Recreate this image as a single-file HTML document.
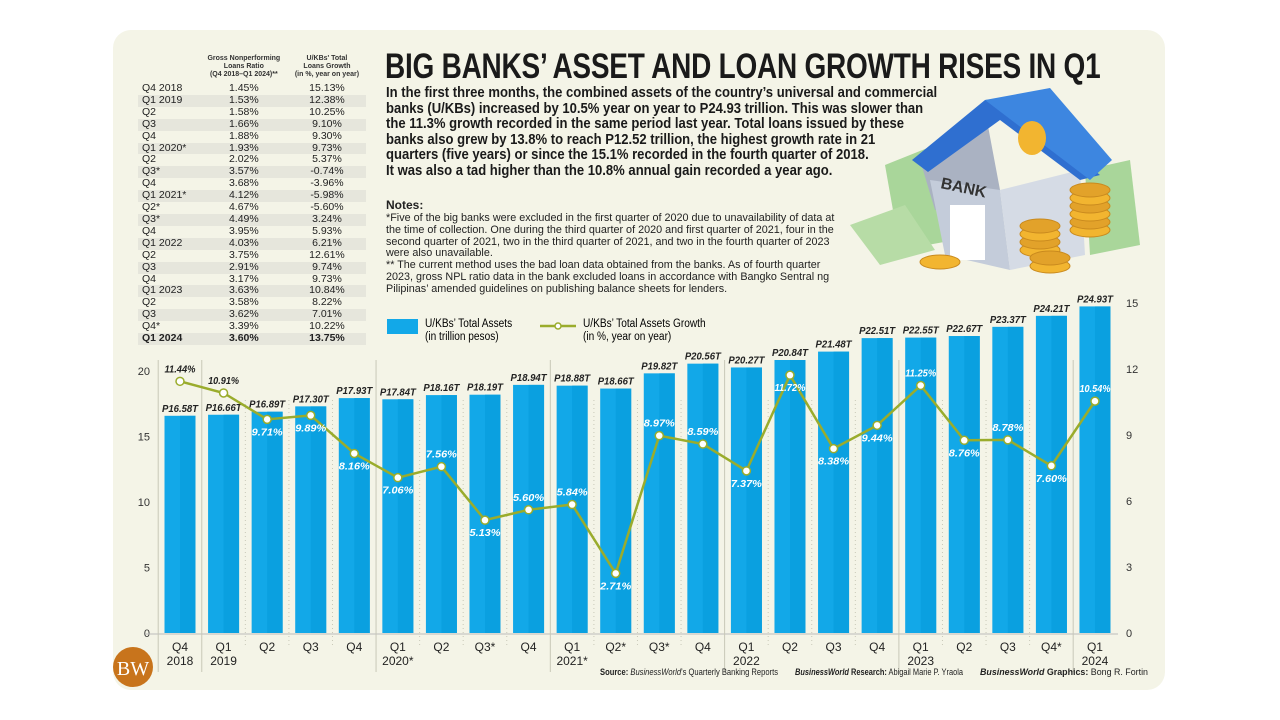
<!DOCTYPE html>
<html><head><meta charset="utf-8"><style>
body{margin:0;width:1280px;height:720px;background:#fff;position:relative;overflow:hidden;font-family:"Liberation Sans",sans-serif;}
#panel{position:absolute;left:113px;top:30px;width:1052px;height:660px;background:#f4f4e7;border-radius:18px;}
.sx{transform-origin:0 0;white-space:nowrap;}
#title{position:absolute;left:385px;top:47px;font-size:35px;font-weight:bold;color:#1a1a1a;transform:scaleX(0.80);letter-spacing:-0.3px;}
#intro{position:absolute;left:386px;top:86px;font-size:14.6px;line-height:15.6px;color:#1a1a1a;font-weight:bold;transform:scaleX(0.895);}
#notes{position:absolute;left:386px;top:197px;font-size:10.8px;line-height:11.8px;color:#222;transform:scaleX(1.0);}
#notes b{font-size:12px;line-height:16px;}
table{position:absolute;left:138px;top:54px;width:228px;border-collapse:collapse;font-size:10.5px;color:#222;}
td{padding:0 4px;height:11.9px;line-height:11.9px;}
td.c{text-align:center;}
tr.g td{background:#e6e6dc;}
th{font-size:7px;font-weight:bold;line-height:8px;padding-bottom:4px;color:#333;}
#legend1{position:absolute;left:425px;top:318px;font-size:11.5px;line-height:12.5px;transform:scaleX(0.88);}
#legend2{position:absolute;left:583px;top:318px;font-size:11.5px;line-height:12.5px;transform:scaleX(0.88);}
</style></head><body>
<div id="panel"></div>
<table>
<tr><th></th><th>Gross Nonperforming<br>Loans Ratio<br>(Q4 2018–Q1 2024)**</th><th>U/KBs' Total<br>Loans Growth<br>(in %, year on year)</th></tr>
<tr><td>Q4 2018</td><td class="c">1.45%</td><td class="c">15.13%</td></tr>
<tr class="g"><td>Q1 2019</td><td class="c">1.53%</td><td class="c">12.38%</td></tr>
<tr><td>Q2</td><td class="c">1.58%</td><td class="c">10.25%</td></tr>
<tr class="g"><td>Q3</td><td class="c">1.66%</td><td class="c">9.10%</td></tr>
<tr><td>Q4</td><td class="c">1.88%</td><td class="c">9.30%</td></tr>
<tr class="g"><td>Q1 2020*</td><td class="c">1.93%</td><td class="c">9.73%</td></tr>
<tr><td>Q2</td><td class="c">2.02%</td><td class="c">5.37%</td></tr>
<tr class="g"><td>Q3*</td><td class="c">3.57%</td><td class="c">-0.74%</td></tr>
<tr><td>Q4</td><td class="c">3.68%</td><td class="c">-3.96%</td></tr>
<tr class="g"><td>Q1 2021*</td><td class="c">4.12%</td><td class="c">-5.98%</td></tr>
<tr><td>Q2*</td><td class="c">4.67%</td><td class="c">-5.60%</td></tr>
<tr class="g"><td>Q3*</td><td class="c">4.49%</td><td class="c">3.24%</td></tr>
<tr><td>Q4</td><td class="c">3.95%</td><td class="c">5.93%</td></tr>
<tr class="g"><td>Q1 2022</td><td class="c">4.03%</td><td class="c">6.21%</td></tr>
<tr><td>Q2</td><td class="c">3.75%</td><td class="c">12.61%</td></tr>
<tr class="g"><td>Q3</td><td class="c">2.91%</td><td class="c">9.74%</td></tr>
<tr><td>Q4</td><td class="c">3.17%</td><td class="c">9.73%</td></tr>
<tr class="g"><td>Q1 2023</td><td class="c">3.63%</td><td class="c">10.84%</td></tr>
<tr><td>Q2</td><td class="c">3.58%</td><td class="c">8.22%</td></tr>
<tr class="g"><td>Q3</td><td class="c">3.62%</td><td class="c">7.01%</td></tr>
<tr><td>Q4*</td><td class="c">3.39%</td><td class="c">10.22%</td></tr>
<tr class="g"><td><b>Q1 2024</b></td><td class="c"><b>3.60%</b></td><td class="c"><b>13.75%</b></td></tr>
</table>
<div id="title" class="sx">BIG BANKS’ ASSET AND LOAN GROWTH RISES IN Q1</div>
<div id="intro" class="sx">In the first three months, the combined assets of the country’s universal and commercial<br>banks (U/KBs) increased by 10.5% year on year to P24.93 trillion. This was slower than<br>the 11.3% growth recorded in the same period last year. Total loans issued by these<br>banks also grew by 13.8% to reach P12.52 trillion, the highest growth rate in 21<br>quarters (five years) or since the 15.1% recorded in the fourth quarter of 2018.<br>It was also a tad higher than the 10.8% annual gain recorded a year ago.</div>
<div id="notes" class="sx"><b>Notes:</b><br>*Five of the big banks were excluded in the first quarter of 2020 due to unavailability of data at<br>the time of collection. One during the third quarter of 2020 and first quarter of 2021, four in the<br>second quarter of 2021, two in the third quarter of 2021, and two in the fourth quarter of 2023<br>were also unavailable.<br>** The current method uses the bad loan data obtained from the banks. As of fourth quarter<br>2023, gross NPL ratio data in the bank excluded loans in accordance with Bangko Sentral ng<br>Pilipinas’ amended guidelines on publishing balance sheets for lenders.</div>
<div id="legend1" class="sx">U/KBs’ Total Assets<br>(in trillion pesos)</div>
<div id="legend2" class="sx">U/KBs’ Total Assets Growth<br>(in %, year on year)</div>
<svg id="chart" width="1280" height="720" style="position:absolute;left:0;top:0"></svg>
<script>
const categories=["Q4|2018","Q1|2019","Q2","Q3","Q4","Q1|2020*","Q2","Q3*","Q4","Q1|2021*","Q2*","Q3*","Q4","Q1|2022","Q2","Q3","Q4","Q1|2023","Q2","Q3","Q4*","Q1|2024"];
const assets=[16.58,16.66,16.89,17.30,17.93,17.84,18.16,18.19,18.94,18.88,18.66,19.82,20.56,20.27,20.84,21.48,22.51,22.55,22.67,23.37,24.21,24.93];
const growth=[11.44,10.91,9.71,9.89,8.16,7.06,7.56,5.13,5.60,5.84,2.71,8.97,8.59,7.37,11.72,8.38,9.44,11.25,8.76,8.78,7.60,10.54];
const growthLabelAbove=[1,1,0,0,0,0,1,0,1,1,0,1,1,0,0,0,0,1,0,1,0,1];
const leftTicks=[0,5,10,15,20];
const rightTicks=[0,3,6,9,12,15];
const NS="http://www.w3.org/2000/svg";
const svg=document.getElementById('chart');
const FF='Liberation Sans,sans-serif';
function mk(t,a,p){const e=document.createElementNS(NS,t);for(const k in a)e.setAttribute(k,a[k]);(p||svg).appendChild(e);return e;}
const y0=633;
const yL=v=>y0-v*13.1;
const yR=v=>y0-v*22.0;
const xC=i=>180+i*43.57;
const bw=31;
const lb=mk('rect',{x:387,y:319,width:31,height:15,fill:'#12a8e8'});


mk('line',{x1:540,y1:326,x2:576,y2:326,stroke:'#9aac2c','stroke-width':2.5});
mk('circle',{cx:558,cy:326,r:3,fill:'#fff',stroke:'#9aac2c','stroke-width':1.5});
leftTicks.forEach(v=>{const t=mk('text',{x:150,y:yL(v)+4,'text-anchor':'end','font-size':11,fill:'#333','font-family':FF});t.textContent=v;
});
rightTicks.forEach(v=>{const t=mk('text',{x:1126,y:yR(v)+4,'font-size':11,fill:'#333','font-family':FF});t.textContent=v;
});
mk('line',{x1:145,y1:y0+1,x2:1118,y2:y0+1,stroke:'#bbb','stroke-width':1});
categories.forEach((c,i)=>{const x=xC(i)-21.8;const yr=c.includes('|');
mk('line',{x1:x,y1:yr?360:400,x2:x,y2:yr?672:645,stroke:'#c8c8b8','stroke-width':1,'stroke-dasharray':yr?'':'1 3'});});
assets.forEach((v,i)=>{
const b=mk('rect',{x:xC(i)-bw/2,y:yL(v),width:bw,height:y0-yL(v),fill:'#12a8e8'});


mk('rect',{x:xC(i),y:yL(v),width:bw/2,height:y0-yL(v),fill:'#0aa0e0'});
const t=mk('text',{x:xC(i),y:yL(v)-4,'text-anchor':'middle','font-size':10.5,'font-weight':'bold','font-style':'italic',fill:'#222','font-family':FF,textLength:36,lengthAdjust:'spacingAndGlyphs'});
t.textContent='P'+v.toFixed(2)+'T';


const parts=categories[i].split('|');
parts.forEach((p,k)=>{const l=mk('text',{x:xC(i),y:651+k*14,'text-anchor':'middle','font-size':12,fill:'#222','font-family':FF});l.textContent=p;
});
});
const pl=mk('polyline',{points:growth.map((v,i)=>xC(i)+','+yR(v)).join(' '),fill:'none',stroke:'#9aac2c','stroke-width':2.5});


growth.forEach((v,i)=>{
const c=mk('circle',{cx:xC(i),cy:yR(v),r:4,fill:'#fff',stroke:'#9aac2c','stroke-width':1.5});


const above=growthLabelAbove[i];
const dark=i<2;
const t=mk('text',{x:xC(i),y:above?yR(v)-9:yR(v)+16,'text-anchor':'middle','font-size':10.5,'font-weight':'bold','font-style':'italic',fill:dark?'#222':'#fff','font-family':FF,textLength:31,lengthAdjust:'spacingAndGlyphs'});
t.textContent=v.toFixed(2)+'%';


});
const f=mk('text',{x:600,y:675,'font-size':9,fill:'#222','font-family':FF,textLength:178,lengthAdjust:'spacingAndGlyphs'});
f.innerHTML='<tspan font-weight="bold">Source:</tspan> <tspan font-style="italic">BusinessWorld</tspan>’s Quarterly Banking Reports';

const f2=mk('text',{x:795,y:675,'font-size':9,fill:'#222','font-family':FF,textLength:168,lengthAdjust:'spacingAndGlyphs'});
f2.innerHTML='<tspan font-weight="bold" font-style="italic">BusinessWorld</tspan><tspan font-weight="bold"> Research:</tspan> Abigail Marie P. Yraola';

const f3=mk('text',{x:980,y:675,'font-size':9,fill:'#222','font-family':FF,textLength:168,lengthAdjust:'spacingAndGlyphs'});
f3.innerHTML='<tspan font-weight="bold" font-style="italic">BusinessWorld</tspan><tspan font-weight="bold"> Graphics:</tspan> Bong R. Fortin';

mk('circle',{cx:133,cy:667,r:20,fill:'#c8741c'});
const bwt=mk('text',{x:133,y:675,'text-anchor':'middle','font-size':20,'font-family':'Liberation Serif,serif',fill:'#fff'});bwt.textContent='BW';

const g=mk('g',{});


mk('polygon',{points:'885,165 935,145 955,240 900,250',fill:'#a9d69a'},g);
mk('polygon',{points:'1085,170 1130,160 1140,245 1090,255',fill:'#a9d69a'},g);
mk('polygon',{points:'850,225 905,205 935,250 880,265',fill:'#b7dca6'},g);
mk('polygon',{points:'920,160 985,110 1000,190 935,210',fill:'#aab2c2'},g);
mk('polygon',{points:'930,180 1000,190 1010,270 945,255',fill:'#c4ccda'},g);
mk('polygon',{points:'1000,190 1080,170 1085,255 1010,270',fill:'#d5dbe5'},g);
mk('polygon',{points:'912,160 985,100 1005,98 1100,175 1080,180 1000,120 928,172',fill:'#2f6fd0'},g);
mk('polygon',{points:'985,100 1050,88 1112,160 1090,180',fill:'#3d86e0'},g);
mk('ellipse',{cx:1032,cy:138,rx:14,ry:17,fill:'#f2b530'},g);
mk('rect',{x:950,y:205,width:35,height:55,fill:'#fff'},g);
const bk=mk('text',{x:940,y:188,'font-size':16,'font-weight':'bold',fill:'#333','font-family':FF,transform:'rotate(12 940 188)'},g);bk.textContent='BANK';
[[1040,250,4],[1090,230,6],[940,262,1],[1050,266,2]].forEach(([x,y,n])=>{for(let k=0;k<n;k++){mk('ellipse',{cx:x,cy:y-k*8,rx:20,ry:7,fill:k%2?'#e2a22a':'#f2b530',stroke:'#c98a1e','stroke-width':1},g);}});
</script>
</body></html>
